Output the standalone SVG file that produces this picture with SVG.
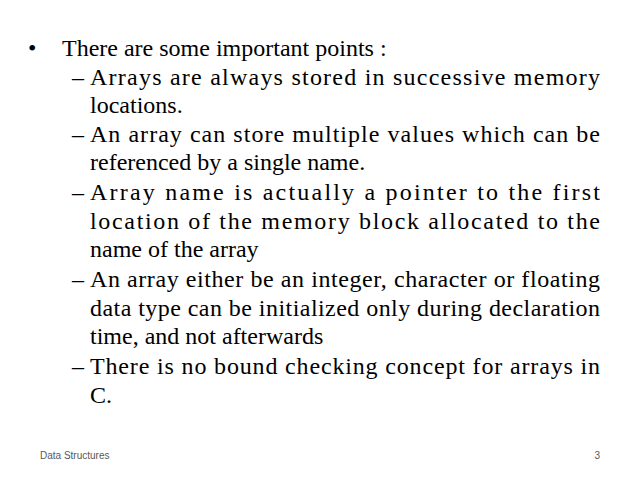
<svg xmlns="http://www.w3.org/2000/svg" width="638" height="478" viewBox="0 0 638 478">
<style>
.t{font-family:"Liberation Serif",serif;font-size:24px;fill:#000}
.f{font-family:"Liberation Sans",sans-serif;font-size:10px;fill:#595959}
</style>
<rect width="638" height="478" fill="#fff"/>
<g id="content">
<text class="t" x="28" y="56">•</text>
<text class="t" x="62" y="56">There are some important points :</text>
<text class="t" x="72" y="85">–</text>
<text class="t" x="90" y="85" textLength="510" lengthAdjust="spacing">Arrays are always stored in successive memory</text>
<text class="t" x="90" y="113">locations.</text>
<text class="t" x="72" y="142">–</text>
<text class="t" x="90" y="142" textLength="510" lengthAdjust="spacing">An array can store multiple values which can be</text>
<text class="t" x="90" y="170">referenced by a single name.</text>
<text class="t" x="72" y="200">–</text>
<text class="t" x="90" y="200" textLength="510" lengthAdjust="spacing">Array name is actually a pointer to the first</text>
<text class="t" x="90" y="229" textLength="510" lengthAdjust="spacing">location of the memory block allocated to the</text>
<text class="t" x="90" y="257">name of the array</text>
<text class="t" x="72" y="287">–</text>
<text class="t" x="90" y="287" textLength="510" lengthAdjust="spacing">An array either be an integer, character or floating</text>
<text class="t" x="90" y="316" textLength="510" lengthAdjust="spacing">data type can be initialized only during declaration</text>
<text class="t" x="90" y="344">time, and not afterwards</text>
<text class="t" x="72" y="374">–</text>
<text class="t" x="90" y="374" textLength="510" lengthAdjust="spacing">There is no bound checking concept for arrays in</text>
<text class="t" x="90" y="403">C.</text>
</g>
<g id="footer">
<text class="f" x="40" y="459">Data Structures</text>
<text class="f" x="600" y="459" text-anchor="end">3</text>
</g>
</svg>
